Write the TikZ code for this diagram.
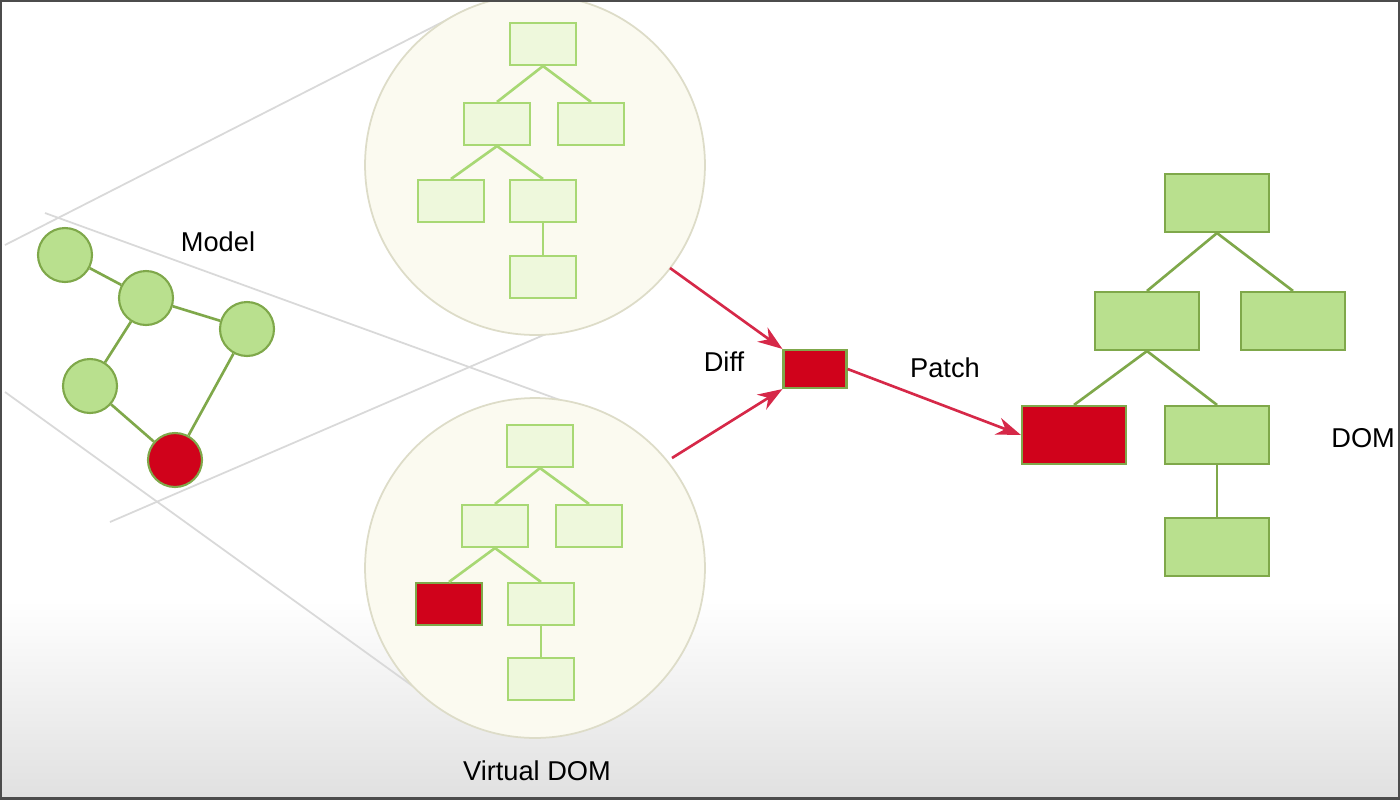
\documentclass[tikz,border=0pt]{standalone}
\usepackage{fontspec}
\setmainfont{Liberation Sans}
\usetikzlibrary{arrows.meta}
\definecolor{gfill}{HTML}{B9E08E}
\definecolor{gline}{HTML}{7FA84A}
\definecolor{lfill}{HTML}{EEF8DC}
\definecolor{lline}{HTML}{A8D874}
\definecolor{cfill}{HTML}{FBFAF0}
\definecolor{cline}{HTML}{DDDCC8}
\definecolor{rfill}{HTML}{D0021B}
\definecolor{aline}{HTML}{D62848}
\begin{document}
\begin{tikzpicture}[x=0.02cm,y=-0.02cm,
  mnode/.style={circle,draw=gline,fill=gfill,line width=1.2pt,inner sep=0,minimum size=1.08cm},
  mred/.style={mnode,fill=rfill},
  vbox/.style={rectangle,draw=lline,fill=lfill,line width=1.2pt,minimum width=1.32cm,minimum height=0.84cm,inner sep=0},
  vred/.style={vbox,fill=rfill,draw=gline},
  dbox/.style={rectangle,draw=gline,fill=gfill,line width=1.2pt,minimum width=2.08cm,minimum height=1.16cm,inner sep=0},
  dred/.style={dbox,fill=rfill},
  vedge/.style={draw=lline,line width=1.5pt},
  dedge/.style={draw=gline,line width=1.5pt},
  bigc/.style={circle,draw=cline,fill=cfill,line width=1pt,minimum size=6.8cm,inner sep=0},
  guide/.style={draw=black!15,line width=1pt},
  arr/.style={draw=aline,line width=1.5pt,-{Stealth[length=14pt,width=10pt]}},
  lbl/.style={font=\fontsize{15.5}{18}\selectfont,inner sep=0}]
\useasboundingbox (0,0) rectangle (1400,799);
\clip (0,0) rectangle (1400,799);
\shade[top color=white,bottom color=black!12] (0,600) rectangle (1400,799);
\fill[white] (0,0) rectangle (1400,600);
% guide lines
\coordinate (g1a) at (5,245); \coordinate (g1b) at (470,8);
\coordinate (g2a) at (45,213); \coordinate (g2b) at (560,400);
\coordinate (g3a) at (110,522); \coordinate (g3b) at (560,328);
\coordinate (g4a) at (5,392); \coordinate (g4b) at (425,695);
\draw[guide] (g1a) -- (g1b); \draw[guide] (g2a) -- (g2b);
\draw[guide] (g3a) -- (g3b); \draw[guide] (g4a) -- (g4b);
% circles
\node[bigc] (cu) at (535,165) {};
\node[bigc] (cl) at (535,568) {};
% upper tree
\node[vbox] (u1) at (543,44) {};
\node[vbox] (u2) at (497,124) {};
\node[vbox] (u3) at (591,124) {};
\node[vbox] (u4) at (451,201) {};
\node[vbox] (u5) at (543,201) {};
\node[vbox] (u6) at (543,277) {};
\draw[vedge] (u1.south) -- (u2.north); \draw[vedge] (u1.south) -- (u3.north);
\draw[vedge] (u2.south) -- (u4.north); \draw[vedge] (u2.south) -- (u5.north);
\draw[vedge] (u5.south) -- (u6.north);
% lower tree
\node[vbox] (l1) at (540,446) {};
\node[vbox] (l2) at (495,526) {};
\node[vbox] (l3) at (589,526) {};
\node[vred] (l4) at (449,604) {};
\node[vbox] (l5) at (541,604) {};
\node[vbox] (l6) at (541,679) {};
\draw[vedge] (l1.south) -- (l2.north); \draw[vedge] (l1.south) -- (l3.north);
\draw[vedge] (l2.south) -- (l4.north); \draw[vedge] (l2.south) -- (l5.north);
\draw[vedge] (l5.south) -- (l6.north);
% model
\node[mnode] (m1) at (65,255) {};
\node[mnode] (m2) at (146,298) {};
\node[mnode] (m3) at (247,329) {};
\node[mnode] (m4) at (90,386) {};
\node[mred] (m5) at (175,460) {};
\draw[dedge] (m1) -- (m2); \draw[dedge] (m2) -- (m3); \draw[dedge] (m2) -- (m4);
\draw[dedge] (m4) -- (m5); \draw[dedge] (m3) -- (m5);
\node[lbl] (tmodel) at (218,242) {Model};
\node[lbl] (tvdom) at (537,771) {Virtual DOM};
% diff
\node[rectangle,draw=gline,fill=rfill,line width=1.2pt,minimum width=1.26cm,minimum height=0.76cm,inner sep=0] (diff) at (815,369) {};
\node[lbl] (tdiff) at (724,362) {Diff};
\node[lbl] (tpatch) at (945,368) {Patch};
\coordinate (a1) at (670,268); \coordinate (a2) at (672,458);
\draw[arr] (a1) -- (diff.north west);
\draw[arr] (a2) -- (diff.south west);
% DOM
\node[dbox] (d1) at (1217,203) {};
\node[dbox] (d2) at (1147,321) {};
\node[dbox] (d3) at (1293,321) {};
\node[dred] (d4) at (1074,435) {};
\node[dbox] (d5) at (1217,435) {};
\node[dbox] (d6) at (1217,547) {};
\draw[dedge] (d1.south) -- (d2.north); \draw[dedge] (d1.south) -- (d3.north);
\draw[dedge] (d2.south) -- (d4.north); \draw[dedge] (d2.south) -- (d5.north);
\draw[dedge] (d5.south) -- (d6.north);
\draw[arr] (diff.east) -- (d4.west);
\node[lbl,anchor=west] (tdom) at (1331,438) {DOM};
\draw[black!70,line width=2pt] (0,0) rectangle (1400,799);
\end{tikzpicture}
\end{document}
